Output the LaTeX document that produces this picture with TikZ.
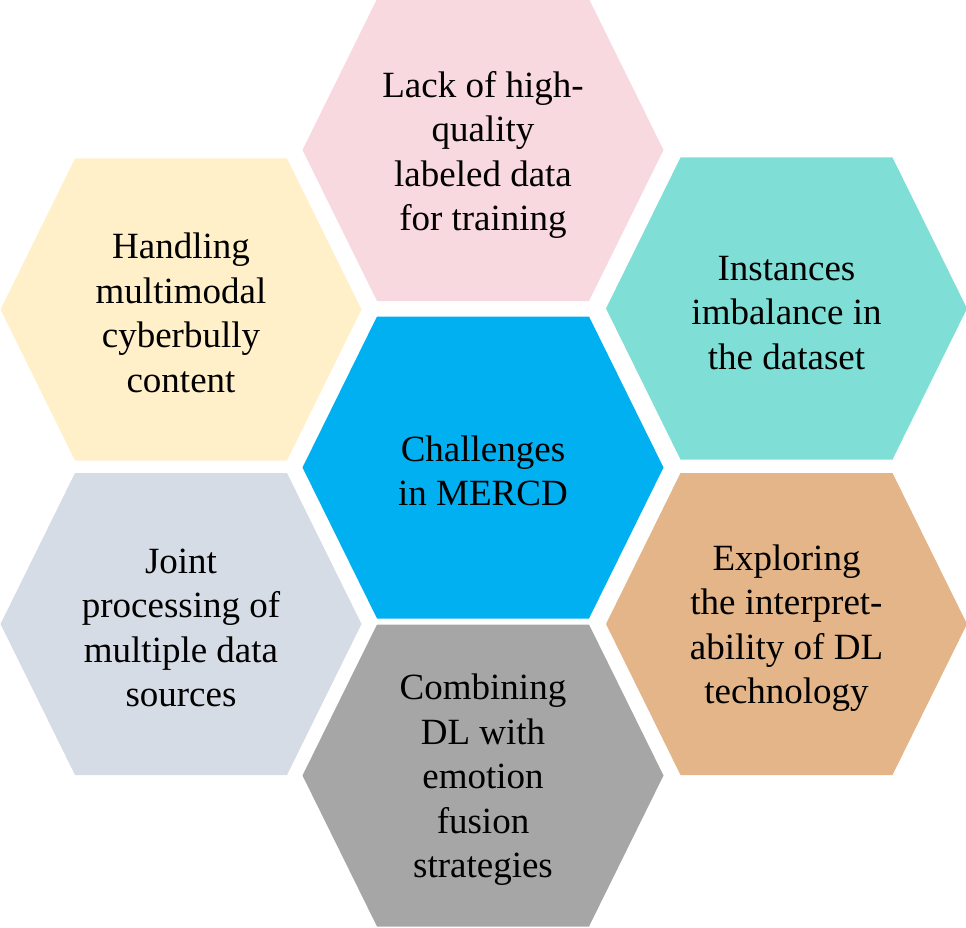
\documentclass[tikz,border=0pt]{standalone}
\usepackage{fontspec}
\setmainfont{Liberation Serif}
\definecolor{hpink}{HTML}{F8D9DF}
\definecolor{hyellow}{HTML}{FFF0CA}
\definecolor{hteal}{HTML}{7FDFD6}
\definecolor{hblue}{HTML}{00B0F0}
\definecolor{hslate}{HTML}{D6DCE5}
\definecolor{hgray}{HTML}{A6A6A6}
\definecolor{hbrown}{HTML}{E3B588}
\begin{document}
\begin{tikzpicture}[x=1pt,y=-1pt,
  hexa/.pic={\fill[pic actions] (-180.5,0) -- (-106,-151) -- (106,-151) -- (180.5,0) -- (106,151) -- (-106,151) -- cycle;},
  lbl/.style={align=center,inner sep=0pt,text=black,font=\fontsize{37}{44.5}\selectfont}]
\useasboundingbox (0,0) rectangle (966,928);
\pic[fill=hpink]   at (483,150)   {hexa};
\pic[fill=hblue]   at (483,467.5) {hexa};
\pic[fill=hgray]   at (483,775.5) {hexa};
\pic[fill=hyellow] at (181,309.5) {hexa};
\pic[fill=hteal]   at (786.5,308.5) {hexa};
\pic[fill=hslate]  at (181,624)   {hexa};
\pic[fill=hbrown]  at (786.5,624) {hexa};
\node[lbl] (top) at (483,155) {Lack of high-\\quality\\labeled data\\for training};
\node[lbl] (ctr) at (483,471) {Challenges\\in MERCD};
\node[lbl] (bot) at (483,780) {Combining\\DL with\\emotion\\fusion\\strategies};
\node[lbl] (ul) at (181,313) {Handling\\multimodal\\cyberbully\\content};
\node[lbl] (ur) at (786.5,313) {Instances\\imbalance in\\the dataset};
\node[lbl] (ll) at (181,628) {Joint\\processing of\\multiple data\\sources};
\node[lbl] (lr) at (786.5,628) {Exploring\\the interpret-\\ability of DL\\technology};
\end{tikzpicture}
\end{document}
